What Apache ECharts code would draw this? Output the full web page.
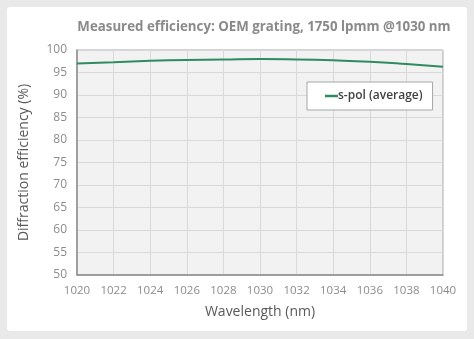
<!DOCTYPE html>
<html><head><meta charset="utf-8">
<script src="https://cdn.jsdelivr.net/npm/echarts@6/dist/echarts.min.js"></script>
<style>html,body{margin:0;padding:0;background:#e9e9e9;}#c{width:474px;height:339px;}</style>
</head><body><div id="c"></div>
<script>
const wavelengths = [1020, 1022, 1024, 1026, 1028, 1030, 1032, 1034, 1036, 1038, 1040];
const sPolAverage = [97.0, 97.3, 97.6, 97.8, 97.9, 98.0, 97.9, 97.7, 97.4, 96.9, 96.3];
const seriesName = 's-pol (average)';
const titleText = 'Measured efficiency: OEM grating, 1750 lpmm @1030 nm';

const chart = echarts.init(document.getElementById('c'), null, {renderer: 'canvas'});
const font = '"Open Sans", "Noto Sans", sans-serif';
chart.setOption({
  animation: false,
  backgroundColor: '#e9e9e9',
  graphic: [{
    type: 'rect', z: -10, silent: true,
    shape: {x: 7, y: 7, width: 460, height: 324, r: 3},
    style: {fill: '#ffffff'}
  }],
  title: {
    text: titleText, left: 259, top: 16, textAlign: 'center',
    textStyle: {fontFamily: font, fontSize: 13.3, fontWeight: 'bold', color: '#8a8a8a'}
  },
  grid: {left: 77, right: 31, top: 50, bottom: 64, show: true, backgroundColor: '#f2f2f2', borderColor: '#a6a6a6', borderWidth: 1},
  legend: {
    left: 307, top: 82, width: 127, height: 32,
    padding: [8, 10, 8, 18],
    backgroundColor: '#ffffff', borderColor: '#a6a6a6', borderWidth: 1,
    itemWidth: 13, itemHeight: 2.5, itemGap: 2,
    icon: 'rect',
    textStyle: {fontFamily: font, fontSize: 12, fontWeight: 600, color: '#404040', padding: [0,0,0,-5]},
    data: [seriesName]
  },
  xAxis: {
    type: 'value', min: 1020, max: 1040, interval: 2,
    name: 'Wavelength (nm)', nameLocation: 'middle', nameGap: 30,
    nameTextStyle: {fontFamily: font, fontSize: 14, color: '#595959'},
    axisLine: {lineStyle: {color: '#8c8c8c', width: 1.5}},
    axisTick: {show: false},
    axisLabel: {fontFamily: font, fontSize: 11.5, color: '#8c8c8c', margin: 10, formatter: v => String(v)},
    splitLine: {lineStyle: {color: '#d9d9d9'}}
  },
  yAxis: {
    type: 'value', min: 50, max: 100, interval: 5,
    name: 'Diffraction efficiency (%)', nameLocation: 'middle', nameGap: 46,
    nameTextStyle: {fontFamily: font, fontSize: 14, color: '#595959'},
    axisLine: {show: true, lineStyle: {color: '#8c8c8c', width: 1.5}},
    axisTick: {show: false},
    axisLabel: {fontFamily: font, fontSize: 12, color: '#8c8c8c', margin: 10},
    splitLine: {lineStyle: {color: '#d9d9d9'}}
  },
  series: [{
    name: seriesName, type: 'line', smooth: true, showSymbol: false,
    data: wavelengths.map((w, i) => [w, sPolAverage[i]]),
    lineStyle: {color: '#2e8b62', width: 2},
    itemStyle: {color: '#2e8b62'}
  }]
});
</script></body></html>
